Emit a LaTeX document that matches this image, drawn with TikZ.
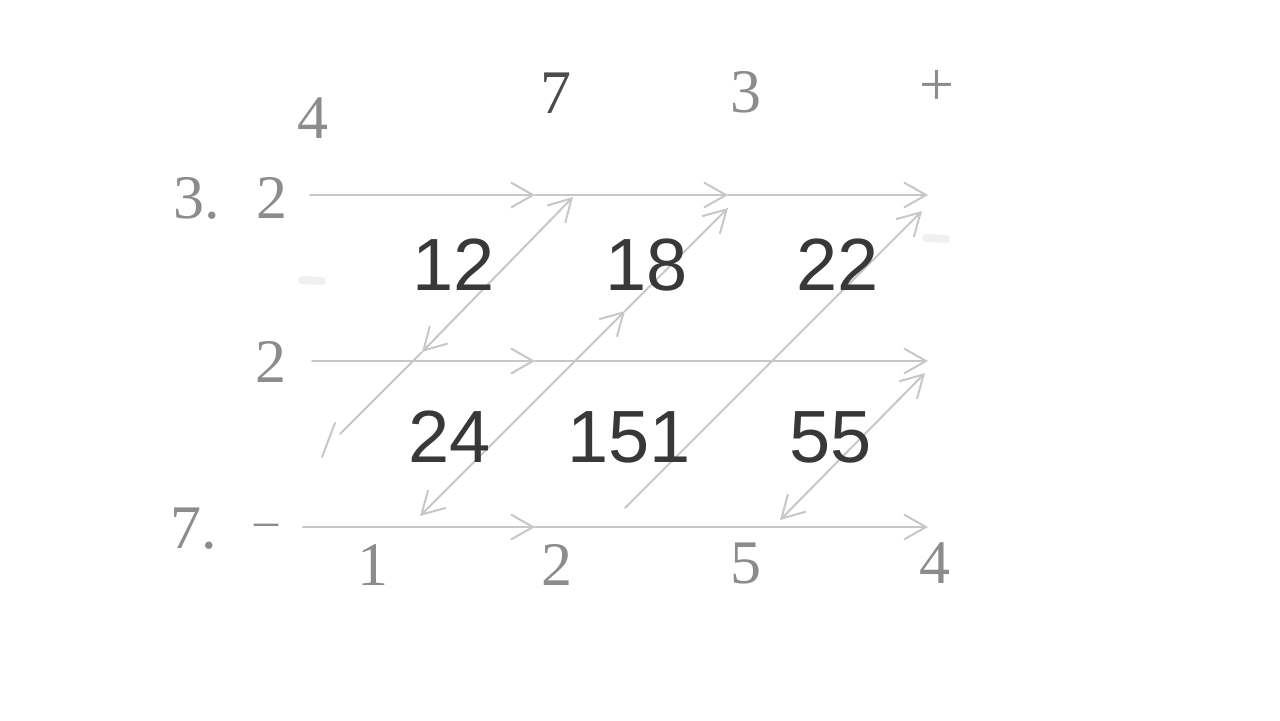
\documentclass[tikz,border=0pt]{standalone}
\usepackage{fontspec}
\setmainfont{Liberation Serif}
\setsansfont{Liberation Sans}
\usepackage{tikz}
\usetikzlibrary{arrows.meta}

\begin{document}
\begin{tikzpicture}[x=0.5pt,y=-0.5pt,line width=1pt,
  grid/.style={draw=black!22,line cap=round},
  >={Straight Barb[length=11pt,width=12.5pt]},
  digit/.style={inner sep=0pt,anchor=base,text=black!45,font=\fontsize{31}{31}\selectfont},
  sumnum/.style={inner sep=0pt,anchor=base,text=black!78,font=\sffamily\fontsize{37}{37}\selectfont},
  smudge/.style={draw=black!6,line width=4pt,line cap=round}]

\useasboundingbox (0,0) rectangle (1280,720);

% rows
\coordinate (r1s) at (310,195);
\coordinate (r1a) at (535,195);
\coordinate (r1b) at (728,195);
\coordinate (r1e) at (928,195);
\coordinate (r2s) at (312,361);
\coordinate (r2a) at (535,361);
\coordinate (r2e) at (928,361);
\coordinate (r3s) at (303,527);
\coordinate (r3a) at (535,527);
\coordinate (r3e) at (928,527);

% diagonals
\coordinate (d1t) at (573,197);
\coordinate (d1u) at (422,352);
\coordinate (d1b) at (340,434);
\coordinate (d1k) at (335,423);
\coordinate (d1e) at (322,457);
\coordinate (d2t) at (728,208);
\coordinate (d2m) at (625,311);
\coordinate (d2x) at (575,361);
\coordinate (d2b) at (420,516);
\coordinate (d3t) at (922,211);
\coordinate (d3b) at (625,508);
\coordinate (d4t) at (925,373);
\coordinate (d4b) at (780,520);

\draw[grid,->] (r1s) -- (r1a);
\draw[grid,->] (r1a) -- (r1b);
\draw[grid,->] (r1b) -- (r1e);
\draw[grid,->] (r2s) -- (r2a);
\draw[grid,->] (r2a) -- (r2e);
\draw[grid,->] (r3s) -- (r3a);
\draw[grid,->] (r3a) -- (r3e);

\draw[grid,<->] (d1u) -- (d1t);
\draw[grid] (d1u) -- (d1b);
\draw[grid] (d1k) -- (d1e);
\draw[grid,->] (d2x) -- (d2m);
\draw[grid,->] (d2m) -- (d2t);
\draw[grid,->] (d2x) -- (d2b);
\draw[grid,->] (d3b) -- (d3t);
\draw[grid,<->] (d4b) -- (d4t);

% factors and result
\node[digit] (top4) at (313,138) {4};
\node[digit,text=black!70] (top7) at (556,113) {7};
\node[digit] (top3) at (746,112) {3};
\node[digit] (plus) at (937,105) {+};
\node[digit] (lab3) at (197,218) {3.};
\node[digit] (row2a) at (272,218) {2};
\node[digit] (row2b) at (271,382) {2};
\node[digit] (lab7) at (194,548) {7.};
\node[digit,font=\fontsize{24}{24}\selectfont] (minus) at (266,536) {\textendash};
\node[digit] (res1) at (373,585) {1};
\node[digit] (res2) at (557,585) {2};
\node[digit] (res5) at (746,583) {5};
\node[digit] (res4) at (935,583) {4};

% partial sums
\node[sumnum] (s12) at (454,290) {12};
\node[sumnum] (s18) at (647,290) {18};
\node[sumnum] (s22) at (838,290) {22};
\node[sumnum] (s24) at (450,462) {24};
\node[sumnum] (s151) at (629,462) {151};
\node[sumnum] (s55) at (831,462) {55};

\draw[smudge] (302,280) -- (322,281);
\draw[smudge] (926,238) -- (946,239);

\end{tikzpicture}
\end{document}
